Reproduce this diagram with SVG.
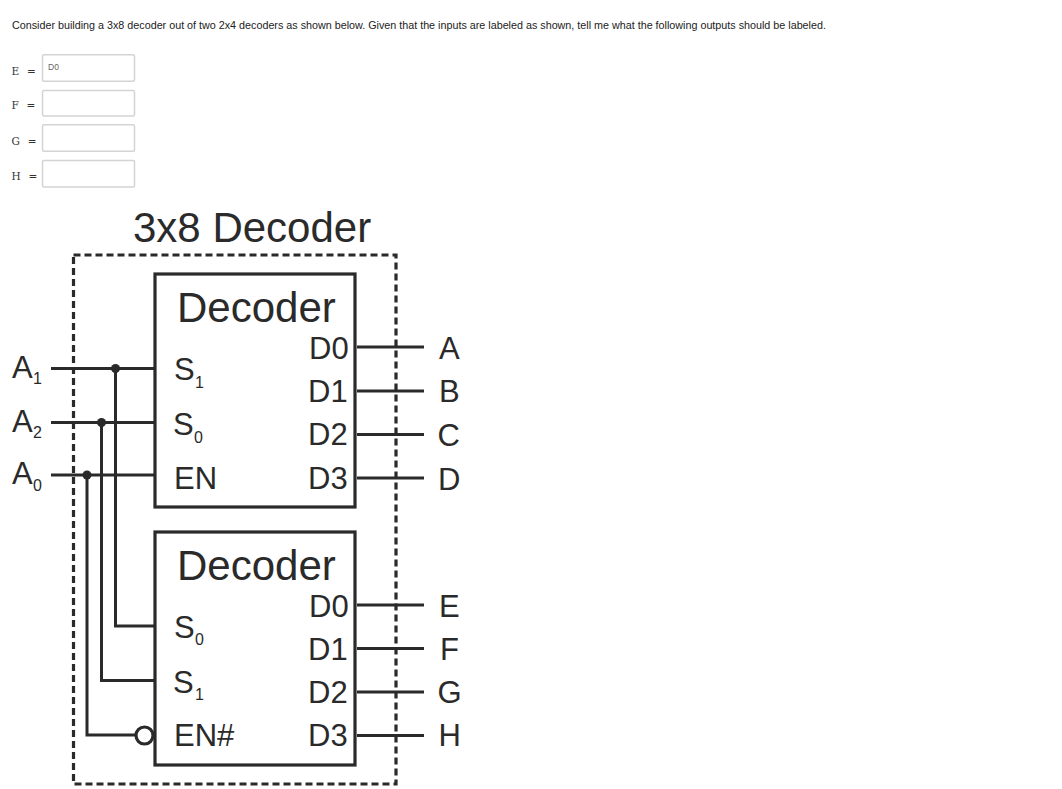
<svg xmlns="http://www.w3.org/2000/svg" width="1062" height="789" viewBox="0 0 1062 789">
<style>
.q{font-family:"Liberation Sans",Arial,sans-serif;font-size:10.76px;fill:#222}
.m{font-family:"DejaVu Serif","Liberation Serif",serif;font-size:10.5px;word-spacing:4.500px;fill:#333}
.field{fill:#fff;stroke:#d4d4d4;stroke-width:1.5}
.val{font-family:"Liberation Sans",Arial,sans-serif;font-size:8.5px;fill:#666}
.big{font-family:"Liberation Sans",Arial,sans-serif;fill:#2a2a2a}
.t42{font-size:42px}.t31{font-size:31px}.t14{font-size:16px}
.box{fill:#fff;stroke:#2a2a2a;stroke-width:3.2}
.w{fill:none;stroke:#2a2a2a;stroke-width:3}
.dash{fill:none;stroke:#2a2a2a;stroke-width:3.2;stroke-dasharray:7 4}
.dot{fill:#2a2a2a}
</style>
<rect width="1062" height="789" fill="#fff"/>
<text class="q" x="12" y="29">Consider building a 3x8 decoder out of two 2x4 decoders as shown below. Given that the inputs are labeled as shown, tell me what the following outputs should be labeled.</text>
<g id="form-e"><text class="m" x="11.500" y="75">E =</text><rect class="field" x="42.500" y="54.700" width="92" height="26.500" rx="1.500"/><text class="val" x="48" y="70">D0</text></g>
<g id="form-f"><text class="m" x="11.500" y="109">F =</text><rect class="field" x="42.500" y="90.500" width="92" height="25.500" rx="1.500"/></g>
<g id="form-g"><text class="m" x="11.500" y="145">G =</text><rect class="field" x="42.500" y="124.700" width="92" height="26.500" rx="1.500"/></g>
<g id="form-h"><text class="m" x="11.500" y="180">H =</text><rect class="field" x="42.500" y="160.500" width="92" height="26.500" rx="1.500"/></g>
<text class="big t42" x="133" y="242">3x8 Decoder</text>
<g id="outer"><rect class="dash" x="73.500" y="255" width="322.500" height="529"/></g>
<g id="connectors">
<path class="w" d="M51 368.500H155M51 422.500H155M51 475H155"/>
<path class="w" d="M115.500 368.500V626H155M101.500 422.500V680.500H155M87 475V735H136"/>
<path class="w" d="M357 347H424M357 391H424M357 434.500H424M357 478H424M357 605H424M357 648.500H424M357 692H424M357 735.500H424"/>
<circle class="dot" cx="115.500" cy="368.500" r="4.500"/><circle class="dot" cx="101.500" cy="422.500" r="4.500"/><circle class="dot" cx="87" cy="475" r="4.500"/>
</g>
<g id="decoder-top"><rect class="box" x="155" y="274" width="200" height="233"/>
<text class="big t42" x="177" y="322">Decoder</text>
<text class="big t31" x="174" y="380">S</text><text class="big t14" x="195" y="388">1</text>
<text class="big t31" x="173" y="435">S</text><text class="big t14" x="194" y="443">0</text>
<text class="big t31" x="174" y="489">EN</text>
<text class="big t31" x="309" y="358.500">D0</text><text class="big t31" x="308" y="402">D1</text><text class="big t31" x="308" y="445">D2</text><text class="big t31" x="308" y="489">D3</text></g>
<g id="decoder-bottom"><rect class="box" x="155" y="532" width="200" height="233"/>
<text class="big t42" x="177" y="580">Decoder</text>
<text class="big t31" x="174" y="638">S</text><text class="big t14" x="195" y="645">0</text>
<text class="big t31" x="173" y="693">S</text><text class="big t14" x="195" y="700">1</text>
<text class="big t31" x="174" y="746">EN#</text>
<text class="big t31" x="309" y="616.500">D0</text><text class="big t31" x="308" y="660">D1</text><text class="big t31" x="308" y="703">D2</text><text class="big t31" x="308" y="746">D3</text></g>
<circle id="bubble" cx="144.500" cy="735.500" r="8.500" fill="#fff" stroke="#2a2a2a" stroke-width="3.200"/>
<g id="inputs">
<text class="big t31" x="12" y="378">A</text><text class="big t14" x="33" y="384">1</text>
<text class="big t31" x="12" y="432">A</text><text class="big t14" x="33" y="437.500">2</text>
<text class="big t31" x="12" y="484">A</text><text class="big t14" x="33" y="491">0</text></g>
<g id="outputs">
<text class="big t31" x="439" y="358.500">A</text><text class="big t31" x="439" y="402">B</text><text class="big t31" x="437.500" y="446">C</text><text class="big t31" x="438" y="490">D</text>
<text class="big t31" x="439" y="616.500">E</text><text class="big t31" x="440" y="660">F</text><text class="big t31" x="437.500" y="703">G</text><text class="big t31" x="438.500" y="746">H</text></g>
</svg>
